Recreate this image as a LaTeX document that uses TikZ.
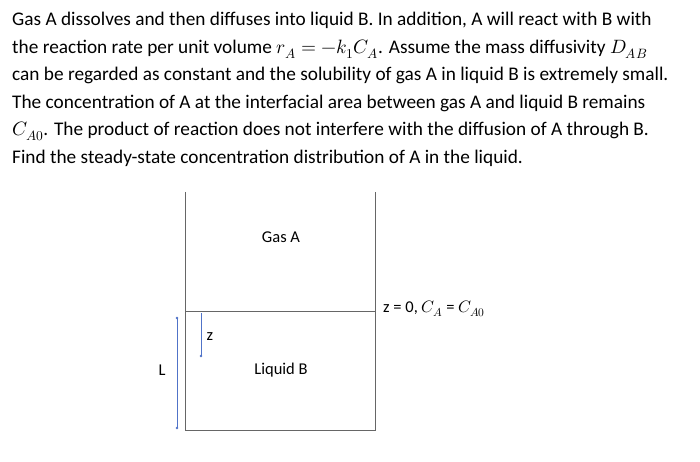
\documentclass[tikz,border=0pt]{standalone}
\usepackage{fontspec}
\setmainfont{Carlito}
\usepackage{unicode-math}
\setmathfont{Latin Modern Math}
\definecolor{dimblue}{RGB}{80,115,200}
\begin{document}
\begin{tikzpicture}[x=1pt,y=-1pt,
 txt/.style={anchor=base west,inner sep=0pt,font=\fontsize{19.3}{22}\selectfont},
 lab/.style={inner sep=0pt,font=\fontsize{16.5}{19}\selectfont},
 dim/.style={draw=dimblue,line width=0.8pt},
 dot/.style={fill=dimblue}]
\useasboundingbox (0,0) rectangle (700,462);
\node[txt] (l1) at (12,26) {Gas A dissolves and then diffuses into liquid B. In addition, A will react with B with};
\node[txt] (l2) at (12,54) {the reaction rate per unit volume $r_A=-k_1C_A$. Assume the mass diffusivity $D_{AB}$};
\node[txt] (l3) at (12,81) {can be regarded as constant and the solubility of gas A in liquid B is extremely small.};
\node[txt] (l4) at (12,109) {The concentration of A at the interfacial area between gas A and liquid B remains};
\node[txt] (l5) at (12,136) {$C_{A0}$. The product of reaction does not interfere with the diffusion of A through B.};
\node[txt] (l6) at (12,164) {Find the steady-state concentration distribution of A in the liquid.};
\coordinate (tl) at (185,192); \coordinate (tr) at (375,192);
\coordinate (ml) at (185,311); \coordinate (mr) at (375,311);
\coordinate (bl) at (185,430); \coordinate (br) at (375,430);
\draw[gray!80!black,line width=0.7pt] (tl) -- (bl) -- (br) -- (tr);
\draw[gray!80!black,line width=0.7pt] (ml) -- (mr);
\node[lab] (gas) at (281,237) {Gas A};
\node[lab] (liq) at (281,370) {Liquid B};
\node[lab,anchor=west] (bc) at (383,309) {z = 0, $C_A$ = $C_{A0}$};
\node[lab] (L) at (162,370) {L};
\node[lab] (z) at (210,337) {z};
\coordinate (La) at (177,318); \coordinate (Lb) at (177,428);
\draw[dim] (La) -- (Lb);
\fill[dot] (La) circle (1.3) (Lb) circle (1.3);
\coordinate (za) at (201,313); \coordinate (zb) at (201,356);
\draw[dim] (za) -- (zb);
\fill[dot] (zb) circle (1.3);
\end{tikzpicture}
\end{document}
